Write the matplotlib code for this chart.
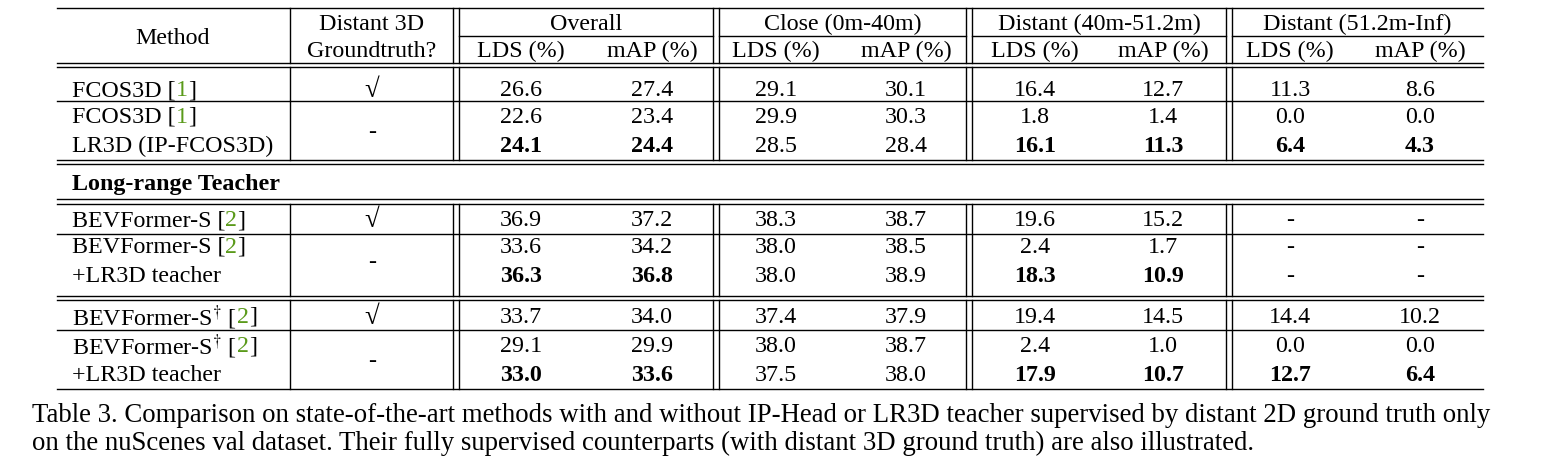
import matplotlib.pyplot as plt

plt.rcParams['font.family'] = ['Liberation Serif', 'DejaVu Serif']
plt.rcParams['mathtext.fontset'] = 'stix'

# table content
groups = ['Overall', 'Close (0m-40m)', 'Distant (40m-51.2m)', 'Distant (51.2m-Inf)']
sub_cols = ['LDS (%)', 'mAP (%)']
methods = [('FCOS3D [', '1', ']'), ('FCOS3D [', '1', ']'), ('LR3D (IP-FCOS3D)', '', ''),
           ('BEVFormer-S [', '2', ']'), ('BEVFormer-S [', '2', ']'), ('+LR3D teacher', '', ''),
           ('BEVFormer-S$^{\\dagger}$ [', '2', ']'), ('BEVFormer-S$^{\\dagger}$ [', '2', ']'),
           ('+LR3D teacher', '', '')]
values = [
    ['26.6', '27.4', '29.1', '30.1', '16.4', '12.7', '11.3', '8.6'],
    ['22.6', '23.4', '29.9', '30.3', '1.8', '1.4', '0.0', '0.0'],
    ['24.1', '24.4', '28.5', '28.4', '16.1', '11.3', '6.4', '4.3'],
    ['36.9', '37.2', '38.3', '38.7', '19.6', '15.2', '-', '-'],
    ['33.6', '34.2', '38.0', '38.5', '2.4', '1.7', '-', '-'],
    ['36.3', '36.8', '38.0', '38.9', '18.3', '10.9', '-', '-'],
    ['33.7', '34.0', '37.4', '37.9', '19.4', '14.5', '14.4', '10.2'],
    ['29.1', '29.9', '38.0', '38.7', '2.4', '1.0', '0.0', '0.0'],
    ['33.0', '33.6', '37.5', '38.0', '17.9', '10.7', '12.7', '6.4'],
]
bold = [
    [0] * 8, [0] * 8, [1, 1, 0, 0, 1, 1, 1, 1],
    [0] * 8, [0] * 8, [1, 1, 0, 0, 1, 1, 0, 0],
    [0] * 8, [0] * 8, [1, 1, 0, 0, 1, 1, 1, 1],
]
caption = ["Table 3. Comparison on state-of-the-art methods with and without IP-Head or LR3D teacher supervised by distant 2D ground truth only",
           "on the nuScenes val dataset. Their fully supervised counterparts (with distant 3D ground truth) are also illustrated."]

# layout (pixels)
FS = 17.3
FS_CAP = 19.3
row_y = [88, 115, 144, 218, 245, 274, 315, 344, 373]
col_x = [521, 652, 776, 906, 1035, 1163, 1290, 1420]
group_x = [(459, 713), (719, 966), (972, 1226), (1232, 1483)]
x0, x1 = 57, 1483
VA = 'center_baseline'

fig = plt.figure(figsize=(15.48, 4.66), dpi=100)
ax = fig.add_axes([0, 0, 1, 1])
ax.set_xlim(0, 1548)
ax.set_ylim(466, 0)
ax.axis('off')
lw = 1.0


def hline(y, a=x0, b=x1):
    ax.plot([a, b], [y, y], color='black', lw=lw)


def vline(x, a, b):
    ax.plot([x, x], [a, b], color='black', lw=lw)


# horizontal rules
hline(8)
for a, b in group_x:
    hline(36, a, b)
for y in [63, 67, 101, 160, 164, 199, 204, 234, 296, 300, 330, 389]:
    hline(y)

# vertical rules per block
for top, bot in [(8, 63), (67, 160), (204, 296), (300, 389)]:
    vline(290, top, bot)
    for x in [453, 459, 713, 719, 966, 972, 1226, 1232]:
        vline(x, top, bot)

# header
ax.text(173, 36, 'Method', ha='center', va=VA, fontsize=FS)
ax.text(372, 22, 'Distant 3D', ha='center', va=VA, fontsize=FS)
ax.text(372, 49, 'Groundtruth?', ha='center', va=VA, fontsize=FS)
for (a, b), g in zip(group_x, groups):
    ax.text((a + b) / 2, 22, g, ha='center', va=VA, fontsize=FS)
for i, x in enumerate(col_x):
    ax.text(x, 49, sub_cols[i % 2], ha='center', va=VA, fontsize=FS)
ax.text(72, 182, 'Long-range Teacher', ha='left', va=VA, fontsize=FS, fontweight='bold')

fig.canvas.draw()
renderer = fig.canvas.get_renderer()
inv = ax.transData.inverted()


def text_right(t):
    bb = t.get_window_extent(renderer)
    return inv.transform((bb.x1, bb.y0))[0]


for y, (pre, ref, post) in zip(row_y, methods):
    t = ax.text(72, y, pre, ha='left', va=VA, fontsize=FS)
    if ref:
        x = text_right(t)
        t2 = ax.text(x, y, ref, ha='left', va=VA, fontsize=FS, color='#5a9a1a')
        x = text_right(t2)
        ax.text(x, y, post, ha='left', va=VA, fontsize=FS)

# groundtruth column
for y in [88, 218, 315]:
    ax.text(372, y, '√', ha='center', va=VA, fontsize=FS + 2)
for y in [130, 260, 359]:
    ax.text(372, y, '-', ha='center', va=VA, fontsize=FS)

for y, vals, bl in zip(row_y, values, bold):
    for x, v, b in zip(col_x, vals, bl):
        ax.text(x, y, v, ha='center', va=VA, fontsize=FS,
                fontweight='bold' if (b and v != '-') else 'normal')

for i, line in enumerate(caption):
    ax.text(32, 413 + 27 * i, line, ha='left', va=VA, fontsize=FS_CAP)

fig.savefig('out.png', dpi=100)
